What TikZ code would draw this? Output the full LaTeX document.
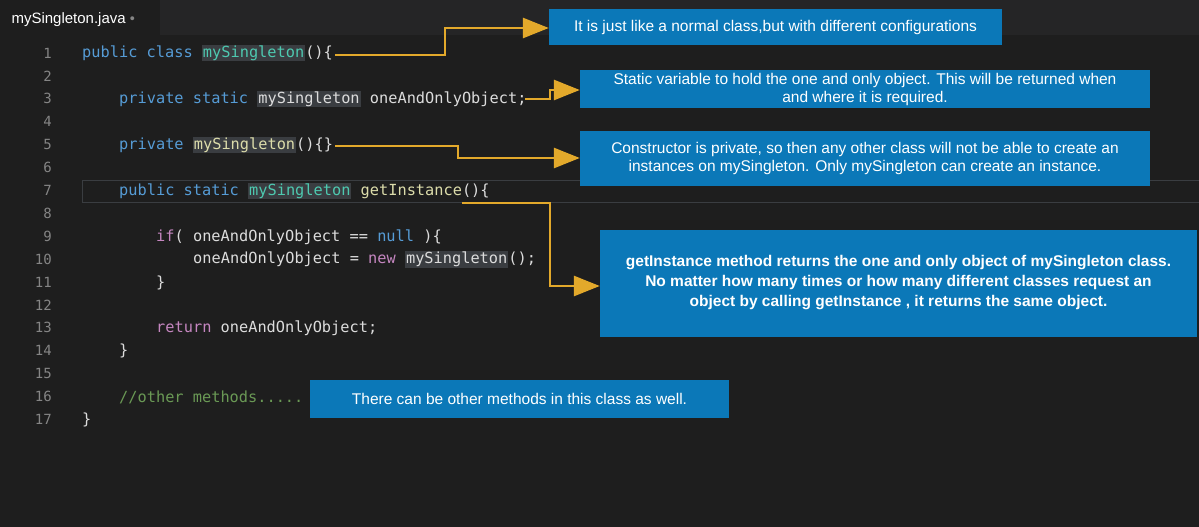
\documentclass[tikz,border=0pt]{standalone}
\usepackage{fontspec}
\setmainfont{Liberation Sans}
\newfontfamily\codef{DejaVu Sans Mono}
\usetikzlibrary{arrows.meta}
\definecolor{bg}{HTML}{1E1E1E}
\definecolor{tabbar}{HTML}{252526}
\definecolor{kw}{HTML}{569CD6}
\definecolor{cls}{HTML}{4EC9B0}
\definecolor{hlbg}{HTML}{3A3D41}
\definecolor{idf}{HTML}{DCDCDC}
\definecolor{fn}{HTML}{DCDCAA}
\definecolor{ctl}{HTML}{C586C0}
\definecolor{cmt}{HTML}{6A9955}
\definecolor{lnum}{HTML}{858585}
\definecolor{boxblue}{HTML}{0B78B8}
\definecolor{arr}{HTML}{E3A92B}
\newcommand{\hlw}[1]{{\setlength{\fboxsep}{1pt}\colorbox{hlbg}{#1}}}
\newcommand{\cKw}[1]{\textcolor{kw}{#1}}
\newcommand{\cCl}[1]{\textcolor{cls}{#1}}
\newcommand{\cId}[1]{\textcolor{idf}{#1}}
\newcommand{\cFn}[1]{\textcolor{fn}{#1}}
\newcommand{\cCt}[1]{\textcolor{ctl}{#1}}
\begin{document}
\begin{tikzpicture}[x=1pt,y=-1pt,
  code/.style={anchor=west,inner sep=0pt,font=\codef\fontsize{15.3}{18}\selectfont,text=idf},
  ln/.style={anchor=east,inner sep=0pt,font=\codef\fontsize{14}{18}\selectfont,text=lnum},
  note/.style={fill=boxblue,text=white,inner sep=0pt,align=center,font=\fontsize{15.5}{18}\selectfont},
  conn/.style={arr,line width=2.8pt,-{Triangle[length=26pt,width=20pt]}}]
\useasboundingbox (0,0) rectangle (1199,527);
\fill[bg] (0,0) rectangle (1199,527);
\fill[tabbar] (160,0) rectangle (1199,35);
\fill[bg] (0,0) rectangle (160,35);
\node[anchor=west,text=white,font=\fontsize{15}{18}\selectfont] (tab) at (8,20) {mySingleton.java \textcolor{lnum}{\Large\textbullet}};
\draw[hlbg,line width=1pt] (82,180) rectangle (1199,202);
\foreach \n in {1,...,17}{\node[ln] (l\n) at (52,{53+(\n-1)*22.9}) {\n};}
\node[code] (c1) at (82,53) {\cKw{public class} \hlw{\cCl{mySingleton}}()\{};
\node[code] (c3) at (119,99) {\cKw{private static} \hlw{\cId{mySingleton}} oneAndOnlyObject;};
\node[code] (c5) at (119,145) {\cKw{private} \hlw{\cFn{mySingleton}}()\{\}};
\node[code] (c7) at (119,191) {\cKw{public static} \hlw{\cCl{mySingleton}} \cFn{getInstance}()\{};
\node[code] (c9) at (156,237) {\cCt{if}( oneAndOnlyObject == \cKw{null} )\{};
\node[code] (c10) at (193,259.5) {oneAndOnlyObject = \cCt{new} \hlw{mySingleton}();};
\node[code] (c11) at (156,282.5) {\}};
\node[code] (c13) at (156,328) {\cCt{return} oneAndOnlyObject;};
\node[code] (c14) at (119,351) {\}};
\node[code,text=cmt] (c16) at (119,397) {//other methods.....};
\node[code] (c17) at (82,420) {\}};
\node[note,minimum width=453pt,minimum height=36pt] (n1) at (775.5,27) {It is just like a normal class,but with different configurations};
\node[note,minimum width=570pt,minimum height=37pt] (n2) at (865,89) {Static variable to hold the one and only object. This will be returned when\\and where it is required.};
\node[note,minimum width=570pt,minimum height=55pt] (n3) at (865,158) {Constructor is private, so then any other class will not be able to create an\\instances on mySingleton. Only mySingleton can create an instance.};
\node[note,minimum width=597pt,minimum height=107pt,font=\bfseries\fontsize{15.5}{20}\selectfont] (n4) at (898.5,283) {getInstance method returns the one and only object of mySingleton class.\\No matter how many times or how many different classes request an\\object by calling getInstance , it returns the same object.};
\node[note,minimum width=419pt,minimum height=38pt] (n5) at (519.5,399) {There can be other methods in this class as well.};
\coordinate (s1) at (335,55); \coordinate (s2) at (525,99);
\coordinate (s3) at (335,146); \coordinate (s4) at (462,203);
\draw[conn] (s1) -- (445,55) -- (445,28) -- (n1.west |- 0,28);
\draw[conn] (s2) -- (550,99) -- (550,90) -- (n2.west |- 0,90);
\draw[conn] (s3) -- (458,146) -- (458,158) -- (n3.west |- 0,158);
\draw[conn] (s4) -- (550,203) -- (550,286) -- (n4.west |- 0,286);
\end{tikzpicture}
\end{document}
